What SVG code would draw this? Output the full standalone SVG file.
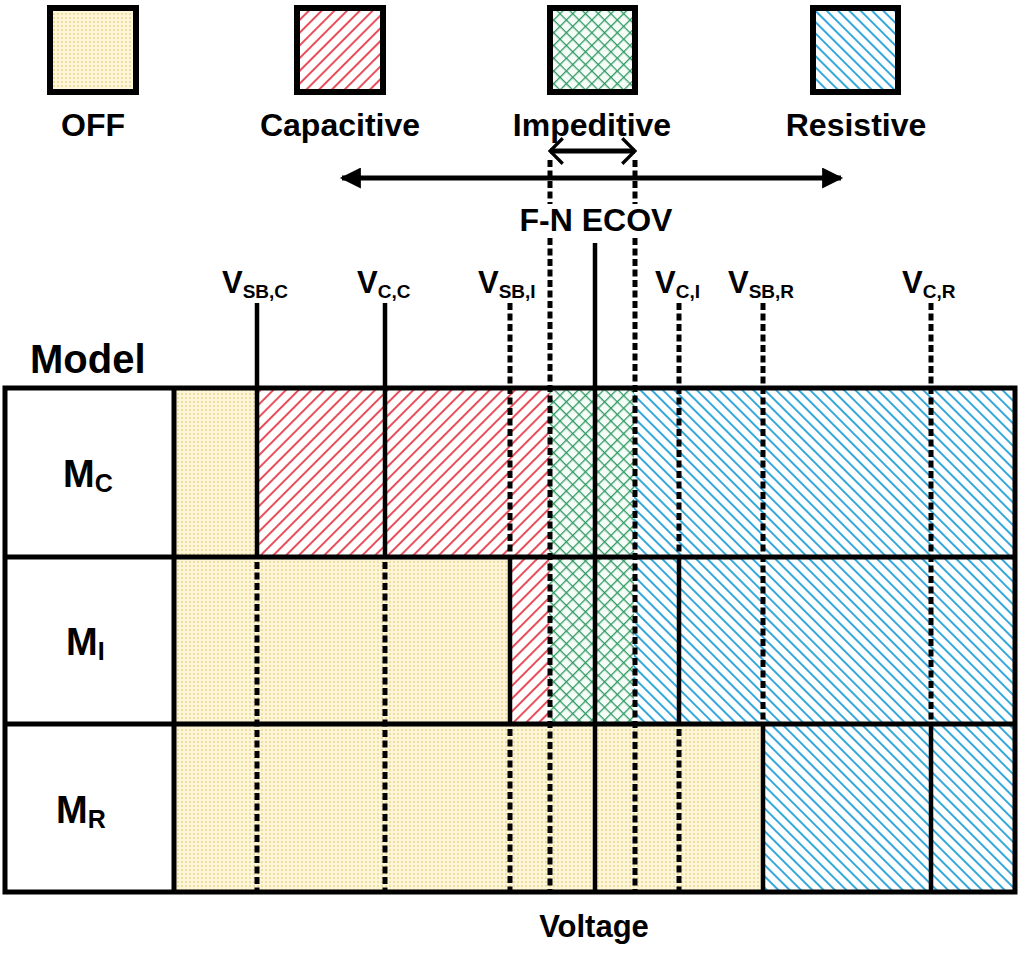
<svg xmlns="http://www.w3.org/2000/svg" width="1025" height="954" viewBox="0 0 1025 954">
<style>
text{font-family:"Liberation Sans",Arial,sans-serif;font-weight:bold;fill:#000}
.leg{font-size:32px;text-anchor:middle}
.v{font-size:31px}
.sub{font-size:19px}
.m{font-size:38px}
.msub{font-size:25px}
.box{stroke:#000;stroke-width:6}
.solid{stroke:#000;stroke-width:4.5;fill:none}
.dash{stroke:#000;stroke-width:5;fill:none;stroke-dasharray:7 3.5}
.grid{stroke:#000;stroke-width:5;fill:none}
.arr{stroke:#000;stroke-width:5;fill:none}
</style>
<defs>
<pattern id="pOff" width="4" height="4" patternUnits="userSpaceOnUse">
<rect width="4" height="4" fill="#fcf5d8"/>
<circle cx="2" cy="2" r="0.9" fill="#ead487"/>
</pattern>
<pattern id="pCap" width="9" height="9" patternUnits="userSpaceOnUse" patternTransform="rotate(45)">
<rect width="9" height="9" fill="#ffffff"/>
<line x1="1" y1="0" x2="1" y2="9" stroke="#e84552" stroke-width="1.9"/>
</pattern>
<pattern id="pImp" width="9" height="9" patternUnits="userSpaceOnUse" patternTransform="rotate(45)">
<rect width="9" height="9" fill="#f6fcf8"/>
<line x1="0.6" y1="0" x2="0.6" y2="9" stroke="#2f9a62" stroke-width="1.4"/>
<line x1="0" y1="0.6" x2="9" y2="0.6" stroke="#2f9a62" stroke-width="1.4"/>
</pattern>
<pattern id="pRes" width="8" height="8" patternUnits="userSpaceOnUse" patternTransform="rotate(-45)">
<rect width="8" height="8" fill="#ffffff"/>
<line x1="1" y1="0" x2="1" y2="8" stroke="#36a9dc" stroke-width="2"/>
</pattern>
<marker id="tri" viewBox="0 0 10 10" refX="9" refY="5" markerWidth="5" markerHeight="4.2" markerUnits="strokeWidth" orient="auto-start-reverse">
<path d="M0,0 L10,5 L0,10 Z" fill="#000"/>
</marker>
<marker id="chev" viewBox="0 0 12 22" refX="11" refY="11" markerWidth="3.2" markerHeight="5.6" markerUnits="strokeWidth" orient="auto-start-reverse">
<path d="M1,1 L11,11 L1,21" fill="none" stroke="#000" stroke-width="2.6"/>
</marker>
</defs>

<rect width="1025" height="954" fill="#ffffff"/>

<!-- Legend -->
<g id="legend-off">
<rect class="box" x="50" y="8" width="86" height="84" fill="url(#pOff)"/>
<text class="leg" x="93" y="136">OFF</text>
</g>
<g id="legend-capacitive">
<rect class="box" x="297" y="8" width="86" height="84" fill="url(#pCap)"/>
<text class="leg" x="340" y="136">Capacitive</text>
</g>
<g id="legend-impeditive">
<rect class="box" x="550" y="8" width="85" height="84" fill="url(#pImp)"/>
<text class="leg" x="592" y="136">Impeditive</text>
</g>
<g id="legend-resistive">
<rect class="box" x="813" y="8" width="85" height="84" fill="url(#pRes)"/>
<text class="leg" x="856" y="136">Resistive</text>
</g>

<!-- Table fills -->
<g id="row-MC">
<rect x="174" y="388" width="83" height="169" fill="url(#pOff)"/>
<rect x="257" y="388" width="292" height="169" fill="url(#pCap)"/>
<rect x="549" y="388" width="85" height="169" fill="url(#pImp)"/>
<rect x="634" y="388" width="381" height="169" fill="url(#pRes)"/>
<text class="m" x="63" y="487">M<tspan class="msub" dy="5">C</tspan></text>
</g>
<g id="row-MI">
<rect x="174" y="557" width="336" height="167" fill="url(#pOff)"/>
<rect x="510" y="557" width="39" height="167" fill="url(#pCap)"/>
<rect x="549" y="557" width="85" height="167" fill="url(#pImp)"/>
<rect x="634" y="557" width="381" height="167" fill="url(#pRes)"/>
<text class="m" x="66" y="655">M<tspan class="msub" dy="5">I</tspan></text>
</g>
<g id="row-MR">
<rect x="174" y="724" width="589" height="168" fill="url(#pOff)"/>
<rect x="763" y="724" width="252" height="168" fill="url(#pRes)"/>
<text class="m" x="56" y="823">M<tspan class="msub" dy="5">R</tspan></text>
</g>

<!-- Connectors: voltage markers and arrows -->
<g id="connectors">
<line class="arr" x1="342" y1="178" x2="841" y2="178" marker-start="url(#tri)" marker-end="url(#tri)"/>
<line class="arr" x1="550" y1="151" x2="635" y2="151" stroke-width="4" marker-start="url(#chev)" marker-end="url(#chev)"/>
<!-- F-N ECOV boundaries -->
<line class="dash" x1="550" y1="160" x2="550" y2="204"/>
<line class="dash" x1="550" y1="238" x2="550" y2="892"/>
<line class="dash" x1="635" y1="160" x2="635" y2="204"/>
<line class="dash" x1="635" y1="238" x2="635" y2="892"/>
<line class="solid" x1="595" y1="243" x2="595" y2="892"/>
<!-- V_SB,C -->
<line class="solid" x1="257" y1="303" x2="257" y2="557"/>
<line class="dash" x1="257" y1="562" x2="257" y2="892"/>
<!-- V_C,C -->
<line class="solid" x1="385" y1="303" x2="385" y2="557"/>
<line class="dash" x1="385" y1="562" x2="385" y2="892"/>
<!-- V_SB,I -->
<line class="dash" x1="510" y1="303" x2="510" y2="557"/>
<line class="solid" x1="510" y1="557" x2="510" y2="724"/>
<line class="dash" x1="510" y1="729" x2="510" y2="892"/>
<!-- V_C,I -->
<line class="dash" x1="679" y1="303" x2="679" y2="557"/>
<line class="solid" x1="679" y1="557" x2="679" y2="724"/>
<line class="dash" x1="679" y1="729" x2="679" y2="892"/>
<!-- V_SB,R -->
<line class="dash" x1="763" y1="303" x2="763" y2="724"/>
<line class="solid" x1="763" y1="724" x2="763" y2="892"/>
<!-- V_C,R -->
<line class="dash" x1="931" y1="303" x2="931" y2="724"/>
<line class="solid" x1="931" y1="724" x2="931" y2="892"/>
</g>

<!-- Table grid -->
<g id="table-grid">
<rect class="grid" x="5" y="388" width="1010" height="504"/>
<line class="grid" x1="174" y1="388" x2="174" y2="892"/>
<line class="grid" x1="5" y1="557" x2="1015" y2="557"/>
<line class="grid" x1="5" y1="724" x2="1015" y2="724"/>
</g>

<!-- Labels -->
<g id="labels">
<text style="font-size:32px;text-anchor:middle" x="596" y="231">F-N ECOV</text>
<text class="v" x="222" y="293">V<tspan class="sub" dy="5">SB,C</tspan></text>
<text class="v" x="357" y="293">V<tspan class="sub" dy="5">C,C</tspan></text>
<text class="v" x="478" y="293">V<tspan class="sub" dy="5">SB,I</tspan></text>
<text class="v" x="655" y="293">V<tspan class="sub" dy="5">C,I</tspan></text>
<text class="v" x="728" y="293">V<tspan class="sub" dy="5">SB,R</tspan></text>
<text class="v" x="902" y="293">V<tspan class="sub" dy="5">C,R</tspan></text>
<text style="font-size:40px" x="30" y="373">Model</text>
<text style="font-size:31px;text-anchor:middle" x="594" y="937">Voltage</text>
</g>
</svg>
